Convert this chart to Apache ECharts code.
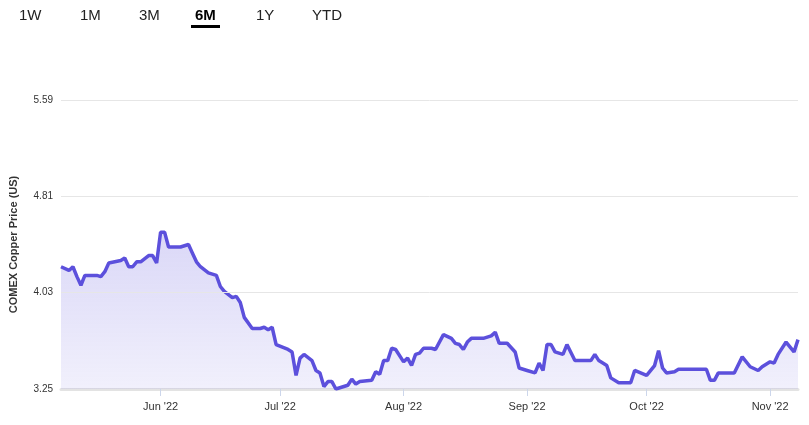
<!DOCTYPE html>
<html>
<head>
<meta charset="utf-8">
<script src="https://cdn.jsdelivr.net/npm/echarts@6/dist/echarts.min.js"></script>
<style>
body { margin: 0; background: #fff; font-family: "Liberation Sans", Arial, sans-serif; }
#chart { position: absolute; left: 0; top: 0; width: 809px; height: 425px; }
.tab { position: absolute; top: 6px; font-size: 15px; color: #222; }
.on { font-weight: bold; color: #000; border-bottom: 3px solid #000; padding: 0 4px 2px 4px; }
</style>
</head>
<body>
<div id="chart"></div>
<div class="tab" style="left:19px">1W</div>
<div class="tab" style="left:80px">1M</div>
<div class="tab" style="left:139px">3M</div>
<div class="tab on" style="left:191px">6M</div>
<div class="tab" style="left:256px">1Y</div>
<div class="tab" style="left:312px">YTD</div>
<script>
var dates = ['2022-05-07','2022-05-09','2022-05-10','2022-05-11','2022-05-12','2022-05-13','2022-05-16','2022-05-17','2022-05-18','2022-05-19','2022-05-22','2022-05-23','2022-05-24','2022-05-25','2022-05-26','2022-05-27','2022-05-29','2022-05-30','2022-05-31',
'2022-06-01','2022-06-02','2022-06-03','2022-06-06','2022-06-08','2022-06-09','2022-06-10','2022-06-11','2022-06-13','2022-06-15','2022-06-16','2022-06-17','2022-06-19','2022-06-20','2022-06-21','2022-06-22','2022-06-24','2022-06-26','2022-06-27','2022-06-28','2022-06-29','2022-06-30',
'2022-07-03','2022-07-04','2022-07-05','2022-07-06','2022-07-07','2022-07-09','2022-07-10','2022-07-11','2022-07-12','2022-07-13','2022-07-14','2022-07-15','2022-07-17','2022-07-18','2022-07-19','2022-07-20','2022-07-21','2022-07-24','2022-07-25','2022-07-26','2022-07-27','2022-07-28','2022-07-29','2022-07-30',
'2022-08-01','2022-08-02','2022-08-03','2022-08-04','2022-08-05','2022-08-06','2022-08-08','2022-08-09','2022-08-11','2022-08-13','2022-08-14','2022-08-15','2022-08-16','2022-08-17','2022-08-18','2022-08-21','2022-08-23','2022-08-24','2022-08-25','2022-08-27','2022-08-29','2022-08-30',
'2022-09-01','2022-09-03','2022-09-04','2022-09-05','2022-09-06','2022-09-07','2022-09-08','2022-09-10','2022-09-11','2022-09-13','2022-09-17','2022-09-18','2022-09-19','2022-09-21','2022-09-22','2022-09-24','2022-09-27','2022-09-28',
'2022-10-01','2022-10-03','2022-10-04','2022-10-05','2022-10-06','2022-10-08','2022-10-09','2022-10-16','2022-10-17','2022-10-18','2022-10-19','2022-10-23','2022-10-25','2022-10-27','2022-10-29','2022-10-30',
'2022-11-01','2022-11-02','2022-11-03','2022-11-05','2022-11-07','2022-11-08'];
var prices = [4.24,4.21,4.24,4.16,4.09,4.17,4.17,4.16,4.20,4.27,4.29,4.31,4.24,4.24,4.28,4.28,4.33,4.33,4.27,
4.52,4.52,4.40,4.40,4.42,4.35,4.28,4.24,4.19,4.17,4.08,4.04,3.99,4.00,3.95,3.83,3.74,3.74,3.75,3.73,3.75,3.61,
3.57,3.55,3.36,3.50,3.53,3.48,3.40,3.38,3.27,3.31,3.31,3.25,3.27,3.28,3.33,3.29,3.31,3.32,3.39,3.37,3.48,3.48,3.58,3.57,
3.47,3.50,3.44,3.53,3.54,3.58,3.58,3.57,3.69,3.66,3.62,3.61,3.57,3.63,3.66,3.66,3.68,3.71,3.62,3.62,3.55,3.42,
3.40,3.38,3.46,3.40,3.61,3.61,3.55,3.53,3.61,3.48,3.48,3.53,3.48,3.44,3.34,3.30,3.30,3.40,
3.36,3.44,3.56,3.42,3.38,3.39,3.41,3.41,3.32,3.32,3.38,3.38,3.51,3.43,3.40,3.43,
3.47,3.46,3.53,3.63,3.55,3.65];
var yTicks = [3.25, 4.03, 4.81, 5.59];
var monthNames = ['Jan','Feb','Mar','Apr','May','Jun','Jul','Aug','Sep','Oct','Nov','Dec'];

// daily category axis from first to last date
var days = [];
var d = new Date(dates[0] + 'T00:00:00Z');
var end = new Date(dates[dates.length - 1] + 'T00:00:00Z');
while (d <= end) {
    days.push(d.toISOString().slice(0, 10));
    d = new Date(d.getTime() + 86400000);
}
var lookup = {};
for (var i = 0; i < dates.length; i++) lookup[dates[i]] = prices[i];
var series = days.map(function (k) { return lookup[k] === undefined ? null : lookup[k]; });

function isMonthStart(idx, val) { return val.slice(8) === '01'; }

var myChart = echarts.init(document.getElementById('chart'));
myChart.setOption({
    animation: false,
    grid: { left: 55, right: 11, top: 100, bottom: 36 },
    xAxis: {
        type: 'category',
        data: days,
        boundaryGap: false,
        axisLine: { lineStyle: { color: '#e3e3e3', width: 3 } },
        axisTick: { interval: isMonthStart, length: 7, lineStyle: { color: '#ccd6eb' } },
        axisLabel: {
            interval: isMonthStart,
            color: '#333', fontSize: 11, margin: 12,
            formatter: function (v) { return monthNames[+v.slice(5, 7) - 1] + " '" + v.slice(2, 4); }
        }
    },
    yAxis: {
        type: 'value',
        min: 3.25, max: 5.59,
        name: 'COMEX Copper Price (US)',
        nameLocation: 'middle',
        nameGap: 42,
        nameTextStyle: { fontWeight: 'bold', fontSize: 11, color: '#333' },
        splitLine: { show: false },
        axisLine: { show: false },
        axisTick: { show: false },
        axisLabel: { customValues: yTicks, color: '#333', fontSize: 10, formatter: function (v) { return v.toFixed(2); } }
    },
    series: [{
        type: 'line',
        data: series,
        connectNulls: true,
        showSymbol: false,
        lineStyle: { color: '#5c50dc', width: 3.5 },
        areaStyle: {
            origin: 'start',
            color: new echarts.graphic.LinearGradient(0, 0, 0, 1, [
                { offset: 0, color: 'rgba(92,80,220,0.32)' },
                { offset: 1, color: 'rgba(92,80,220,0.12)' }
            ])
        },
        markLine: {
            silent: true, symbol: 'none', label: { show: false },
            lineStyle: { color: '#e6e6e6', type: 'solid', width: 1 },
            data: yTicks.slice(1).map(function (t) { return { yAxis: t }; })
        }
    }]
});
</script>
</body>
</html>
